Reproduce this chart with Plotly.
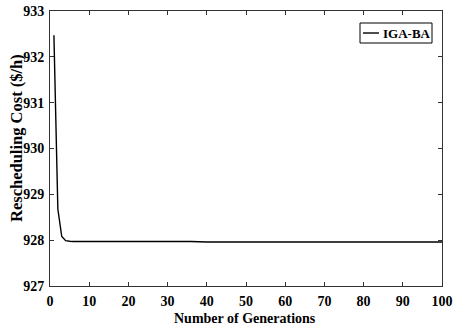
import plotly.graph_objects as go

generations = [1, 2, 3, 4, 5, 6, 36, 40, 100]
cost = [932.47, 928.68, 928.08, 927.99, 927.975, 927.97, 927.97, 927.96, 927.96]
series_name = "IGA-BA"
x_title = "Number of Generations"
y_title = "Rescheduling Cost ($/h)"

FONT = "Liberation Serif"

fig = go.Figure()
fig.add_trace(go.Scatter(x=generations, y=cost, mode="lines", name=series_name,
                         line=dict(color="black", width=1.4), showlegend=False))

axis_common = dict(showline=True, linecolor="#333", linewidth=1, mirror="ticks",
                   ticks="inside", ticklen=4, tickcolor="#333", showgrid=False,
                   zeroline=False, automargin=False,
                   tickfont=dict(family=FONT, size=14, color="black", weight="bold"))

fig.update_xaxes(range=[0, 100], dtick=10, tick0=0, ticklabelstandoff=2, **axis_common)
fig.update_yaxes(range=[927, 933], dtick=1, tick0=927, ticklabelstandoff=2, **axis_common)

# axis titles as annotations (positioned like the reference)
fig.add_annotation(xref="paper", yref="paper", x=(245-50)/392, y=(286-318)/275,
                   text=f"<b>{x_title}</b>", showarrow=False,
                   xanchor="center", yanchor="middle",
                   font=dict(family=FONT, size=14, color="black"))
fig.add_annotation(xref="paper", yref="paper", x=-34/392, y=(286-138)/275,
                   text=f"<b>{y_title}</b>", textangle=-90,
                   showarrow=False, xanchor="center", yanchor="middle",
                   font=dict(family=FONT, size=16.5, color="black"))

# custom legend box
lx0, lx1 = (360-50)/392, (432-50)/392
ly1, ly0 = 1-(23-11)/275, 1-(43-11)/275
fig.add_shape(type="rect", xref="paper", yref="paper", x0=lx0, x1=lx1, y0=ly0, y1=ly1,
              line=dict(color="black", width=1), fillcolor="white", layer="above")
ymid = (ly0+ly1)/2
fig.add_shape(type="line", xref="paper", yref="paper", x0=(363-50)/392, x1=(379-50)/392,
              y0=ymid, y1=ymid, line=dict(color="black", width=1.4), layer="above")
fig.add_annotation(xref="paper", yref="paper", x=(381-50)/392, y=ymid,
                   text=f"<b>{series_name}</b>", showarrow=False,
                   xanchor="left", yanchor="middle",
                   font=dict(family=FONT, size=13, color="black"))

fig.update_layout(
    width=474, height=331,
    margin=dict(l=50, r=32, t=11, b=45),
    paper_bgcolor="white", plot_bgcolor="white",
    showlegend=False,
)

fig.write_html("out.html")
